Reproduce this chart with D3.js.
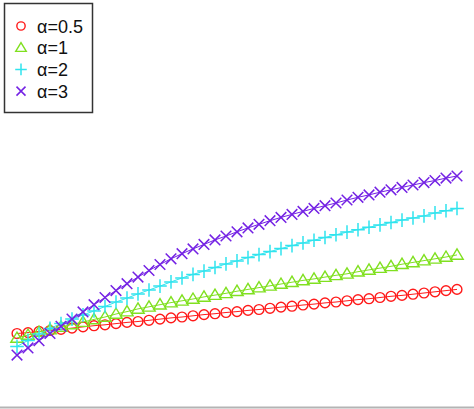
<!DOCTYPE html>
<html>
<head>
<meta charset="utf-8">
<script src="https://cdn.jsdelivr.net/npm/d3@7"></script>
<style>
  body { margin: 0; background: #fff; }
  svg { display: block; }
  .legend text { font-family: "Liberation Sans", Arial, sans-serif; font-size: 18px; fill: #111; }
</style>
</head>
<body>
<div id="content"></div>
<script>
// step index along the horizontal axis
var steps = [0,1,2,3,4,5,6,7,8,9,10,11,12,13,14,15,16,17,18,19,20,
	21,22,23,24,25,26,27,28,29,30,31,32,33,34,35,36,37,38,39,40];

var alpha05 = [0.245,0.248,0.252,0.255,0.259,0.263,0.267,0.271,0.274,0.278,
	0.282,0.285,0.289,0.293,0.297,0.300,0.304,0.308,0.311,0.315,
	0.318,0.322,0.325,0.329,0.333,0.336,0.340,0.343,0.347,0.350,
	0.354,0.358,0.361,0.365,0.369,0.372,0.376,0.380,0.384,0.388,0.392];

var alpha1 = [0.230,0.240,0.250,0.258,0.267,0.275,0.283,0.292,0.300,0.310,
	0.318,0.327,0.334,0.341,0.348,0.354,0.360,0.367,0.373,0.379,
	0.386,0.392,0.398,0.404,0.410,0.416,0.422,0.427,0.433,0.439,
	0.444,0.451,0.457,0.463,0.469,0.476,0.482,0.488,0.494,0.500,0.507];

var alpha2 = [0.202,0.222,0.243,0.262,0.278,0.293,0.307,0.320,0.335,0.350,
	0.363,0.377,0.390,0.403,0.417,0.430,0.442,0.453,0.465,0.477,
	0.487,0.498,0.508,0.518,0.528,0.538,0.547,0.556,0.565,0.574,
	0.583,0.591,0.599,0.607,0.615,0.623,0.630,0.637,0.647,0.654,0.662];

var alpha3 = [0.173,0.197,0.221,0.245,0.269,0.293,0.317,0.341,0.365,0.388,
	0.411,0.433,0.455,0.475,0.494,0.511,0.527,0.542,0.557,0.570,
	0.584,0.597,0.609,0.621,0.632,0.642,0.652,0.662,0.671,0.680,
	0.690,0.699,0.707,0.716,0.724,0.732,0.740,0.748,0.755,0.763,0.770];

var labels = ["\u03b1=0.5", "\u03b1=1", "\u03b1=2", "\u03b1=3"];
var colors = ["#ff1a1a", "#80e020", "#30e4ee", "#7422e4"];
var shapes = ["circle", "triangle", "plus", "cross"];

var series = [alpha05, alpha1, alpha2, alpha3].map(function(vals, i) {
	return {label: labels[i], color: colors[i], shape: shapes[i], values: vals};
});

var W = 474, H = 409;

var x = d3.scaleLinear().domain([0, 40]).range([17, 457]);
var y = d3.scaleLinear().domain([0, 1]).range([407, 107]);

var svg = d3.select("#content").append("svg")
	.attr("width", W).attr("height", H);

// grey baseline at the bottom
svg.append("line")
	.attr("x1", 0).attr("x2", W)
	.attr("y1", 407.5).attr("y2", 407.5)
	.attr("stroke", "#b4b4b4").attr("stroke-width", 2);

var line = d3.line()
	.x(function(d, i) { return x(steps[i]); })
	.y(function(d) { return y(d); });

// draw one marker of the given shape centred at 0,0
function marker(sel, shape, color, s) {
	s = s || 1;
	if (shape == "circle") {
		sel.append("circle").attr("r", 4.9 * s)
			.attr("fill", "none").attr("stroke", color).attr("stroke-width", 1.4);
	} else if (shape == "triangle") {
		sel.append("path")
			.attr("d", "M0," + (-6 * s) + "L" + (6.2 * s) + "," + (4.3 * s) + "L" + (-6.2 * s) + "," + (4.3 * s) + "Z")
			.attr("fill", "none").attr("stroke", color).attr("stroke-width", 1.4);
	} else if (shape == "plus") {
		sel.append("path")
			.attr("d", "M" + (-6.8 * s) + ",0H" + (6.8 * s) + "M0," + (-6.8 * s) + "V" + (6.8 * s))
			.attr("fill", "none").attr("stroke", color).attr("stroke-width", 1.5);
	} else {
		sel.append("path")
			.attr("d", "M" + (-5.3 * s) + "," + (-5.3 * s) + "L" + (5.3 * s) + "," + (5.3 * s) +
				"M" + (5.3 * s) + "," + (-5.3 * s) + "L" + (-5.3 * s) + "," + (5.3 * s))
			.attr("fill", "none").attr("stroke", color).attr("stroke-width", 1.5);
	}
}

var g = svg.selectAll(".series")
	.data(series)
	.enter().append("g")
	.attr("class", "series");

g.append("path")
	.attr("d", function(d) { return line(d.values); })
	.attr("fill", "none")
	.attr("stroke", function(d) { return d.color; })
	.attr("stroke-width", 1);

g.each(function(d) {
	d3.select(this).selectAll(".pt")
		.data(d.values)
		.enter().append("g")
		.attr("class", "pt")
		.attr("transform", function(v, i) { return "translate(" + x(steps[i]) + "," + y(v) + ")"; })
		.each(function() { marker(d3.select(this), d.shape, d.color); });
});

// legend
var legend = svg.append("g").attr("class", "legend");

legend.append("rect")
	.attr("x", 4.5).attr("y", 3.5)
	.attr("width", 88).attr("height", 109)
	.attr("fill", "#fff").attr("stroke", "#333").attr("stroke-width", 1.5);

var rows = legend.selectAll(".row")
	.data(series)
	.enter().append("g")
	.attr("class", "row")
	.attr("transform", function(d, i) { return "translate(21," + (26 + i * 21.7) + ")"; });

rows.each(function(d) { marker(d3.select(this), d.shape, d.color, 0.85); });

rows.append("text")
	.attr("x", 16)
	.attr("y", 6.5)
	.text(function(d) { return d.label; });
</script>
</body>
</html>
